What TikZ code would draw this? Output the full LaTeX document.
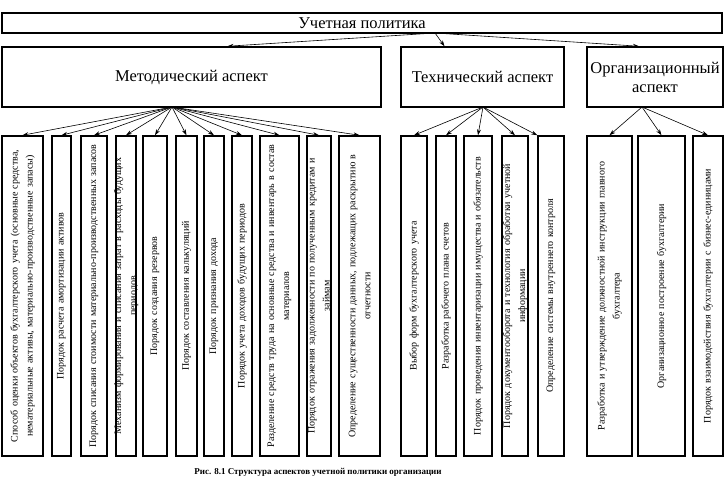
\documentclass[tikz,border=0pt]{standalone}
\usepackage{fontspec}
\setmainfont{Liberation Serif}
\usetikzlibrary{arrows.meta}

\tikzset{
  aspect/.style={draw, line width=1.5pt, align=center, inner sep=1pt,
    font=\fontsize{16.5}{19}\selectfont},
  item/.style={draw, line width=1.5pt, minimum height=320pt, inner sep=0pt},
  itemtext/.style={rotate=90, text width=330pt, align=center, inner sep=0pt,
    font=\fontsize{10}{15}\selectfont},
  arr/.style={-{Stealth[length=6pt,width=4pt]}, line width=0.6pt},
}

\begin{document}
\begin{tikzpicture}[x=1pt,y=-1pt]
		\useasboundingbox (0,0) rectangle (724,482);
		% top and aspects
		\node[aspect, minimum width=720pt, minimum height=20pt] (pol) at (362,23) {Учетная политика};
		\node[aspect, minimum width=379pt, minimum height=60pt] (meth) at (191.5,77) {Методический аспект};
		\node[aspect, minimum width=163pt, minimum height=60pt] (tech) at (482.5,77) {Технический аспект};
		\node[aspect, minimum width=136pt, minimum height=60pt] (org) at (655,77) {Организационный\\аспект};
		\coordinate (pfork) at (435,33);
		\draw [arr] (pfork) -- ([xshift=36pt]meth.north);
		\draw [arr] (pfork) -- ([xshift=-38pt]tech.north);
		\draw [arr] (pfork) -- ([xshift=-16pt]org.north);
		% item boxes
		\foreach \n/\a/\b/\t in {
			m1/2/43/{\fontsize{10}{11}\selectfont Способ оценки объектов бухгалтерского учета (основные средства,\\ нематериальные активы, материально-производственные запасы)},
			m2/52/71/{Порядок расчета амортизации активов},
			m3/81/107/{Порядок списания стоимости материально-производственных запасов},
			m4/116/136/{Механизм формирования и списания затрат в расходы будущих\\ периодов},
			m5/143/167/{Порядок создания резервов},
			m6/176/197/{Порядок составления калькуляций},
			m7/204/224/{Порядок признания дохода},
			m8/232/252/{Порядок учета доходов будущих периодов},
			m9/260/299/{Разделение средств труда на основные средства и инвентарь в состав\\ материалов},
			m10/307/331/{Порядок отражения задолженности по полученным кредитам и\\ займам},
			m11/339/380/{Определение существенности данных, подлежащих раскрытию в\\ отчетности},
			t1/401/427/{Выбор форм бухгалтерского учета},
			t2/436/456/{Разработка рабочего плана счетов},
			t3/464/492/{Порядок проведения инвентаризации имущества и обязательств},
			t4/502/528/{Порядок документооборота и технология обработки учетной\\ информации},
			t5/538/564/{Определение системы внутреннего контроля},
			o1/587/632/{Разработка и утверждение должностной инструкции главного\\ бухгалтера},
			o2/638/685/{Организационное построение бухгалтерии},
			o3/693/723/{Порядок взаимодействия бухгалтерии с бизнес-единицами}}
		{
			\node[item, minimum width={(\b-\a)*1pt}] (\n) at ({(\a+\b)/2},296) {};
			\node[itemtext] at (\n.center) {\t};
		}
		% connectors
		\coordinate (mfork) at (172,107);
		\coordinate (tfork) at (483,107);
		\coordinate (ofork) at (642,107);
		\foreach \n in {m1,m2,m3,m4,m5,m6,m7,m8,m9,m10,m11}
			\draw [arr] (mfork) -- (\n.north);
		\foreach \n in {t1,t2,t3,t4}
			\draw [arr] (tfork) -- (\n.north);
		\draw [arr] (tfork) -- (t5.north west);
		\foreach \n in {o1,o2,o3}
			\draw [arr] (ofork) -- (\n.north);
		% caption
		\node[font=\fontsize{9}{11}\selectfont\bfseries] (cap) at (318,472) {Рис. 8.1 Структура аспектов учетной политики организации};
\end{tikzpicture}
\end{document}
